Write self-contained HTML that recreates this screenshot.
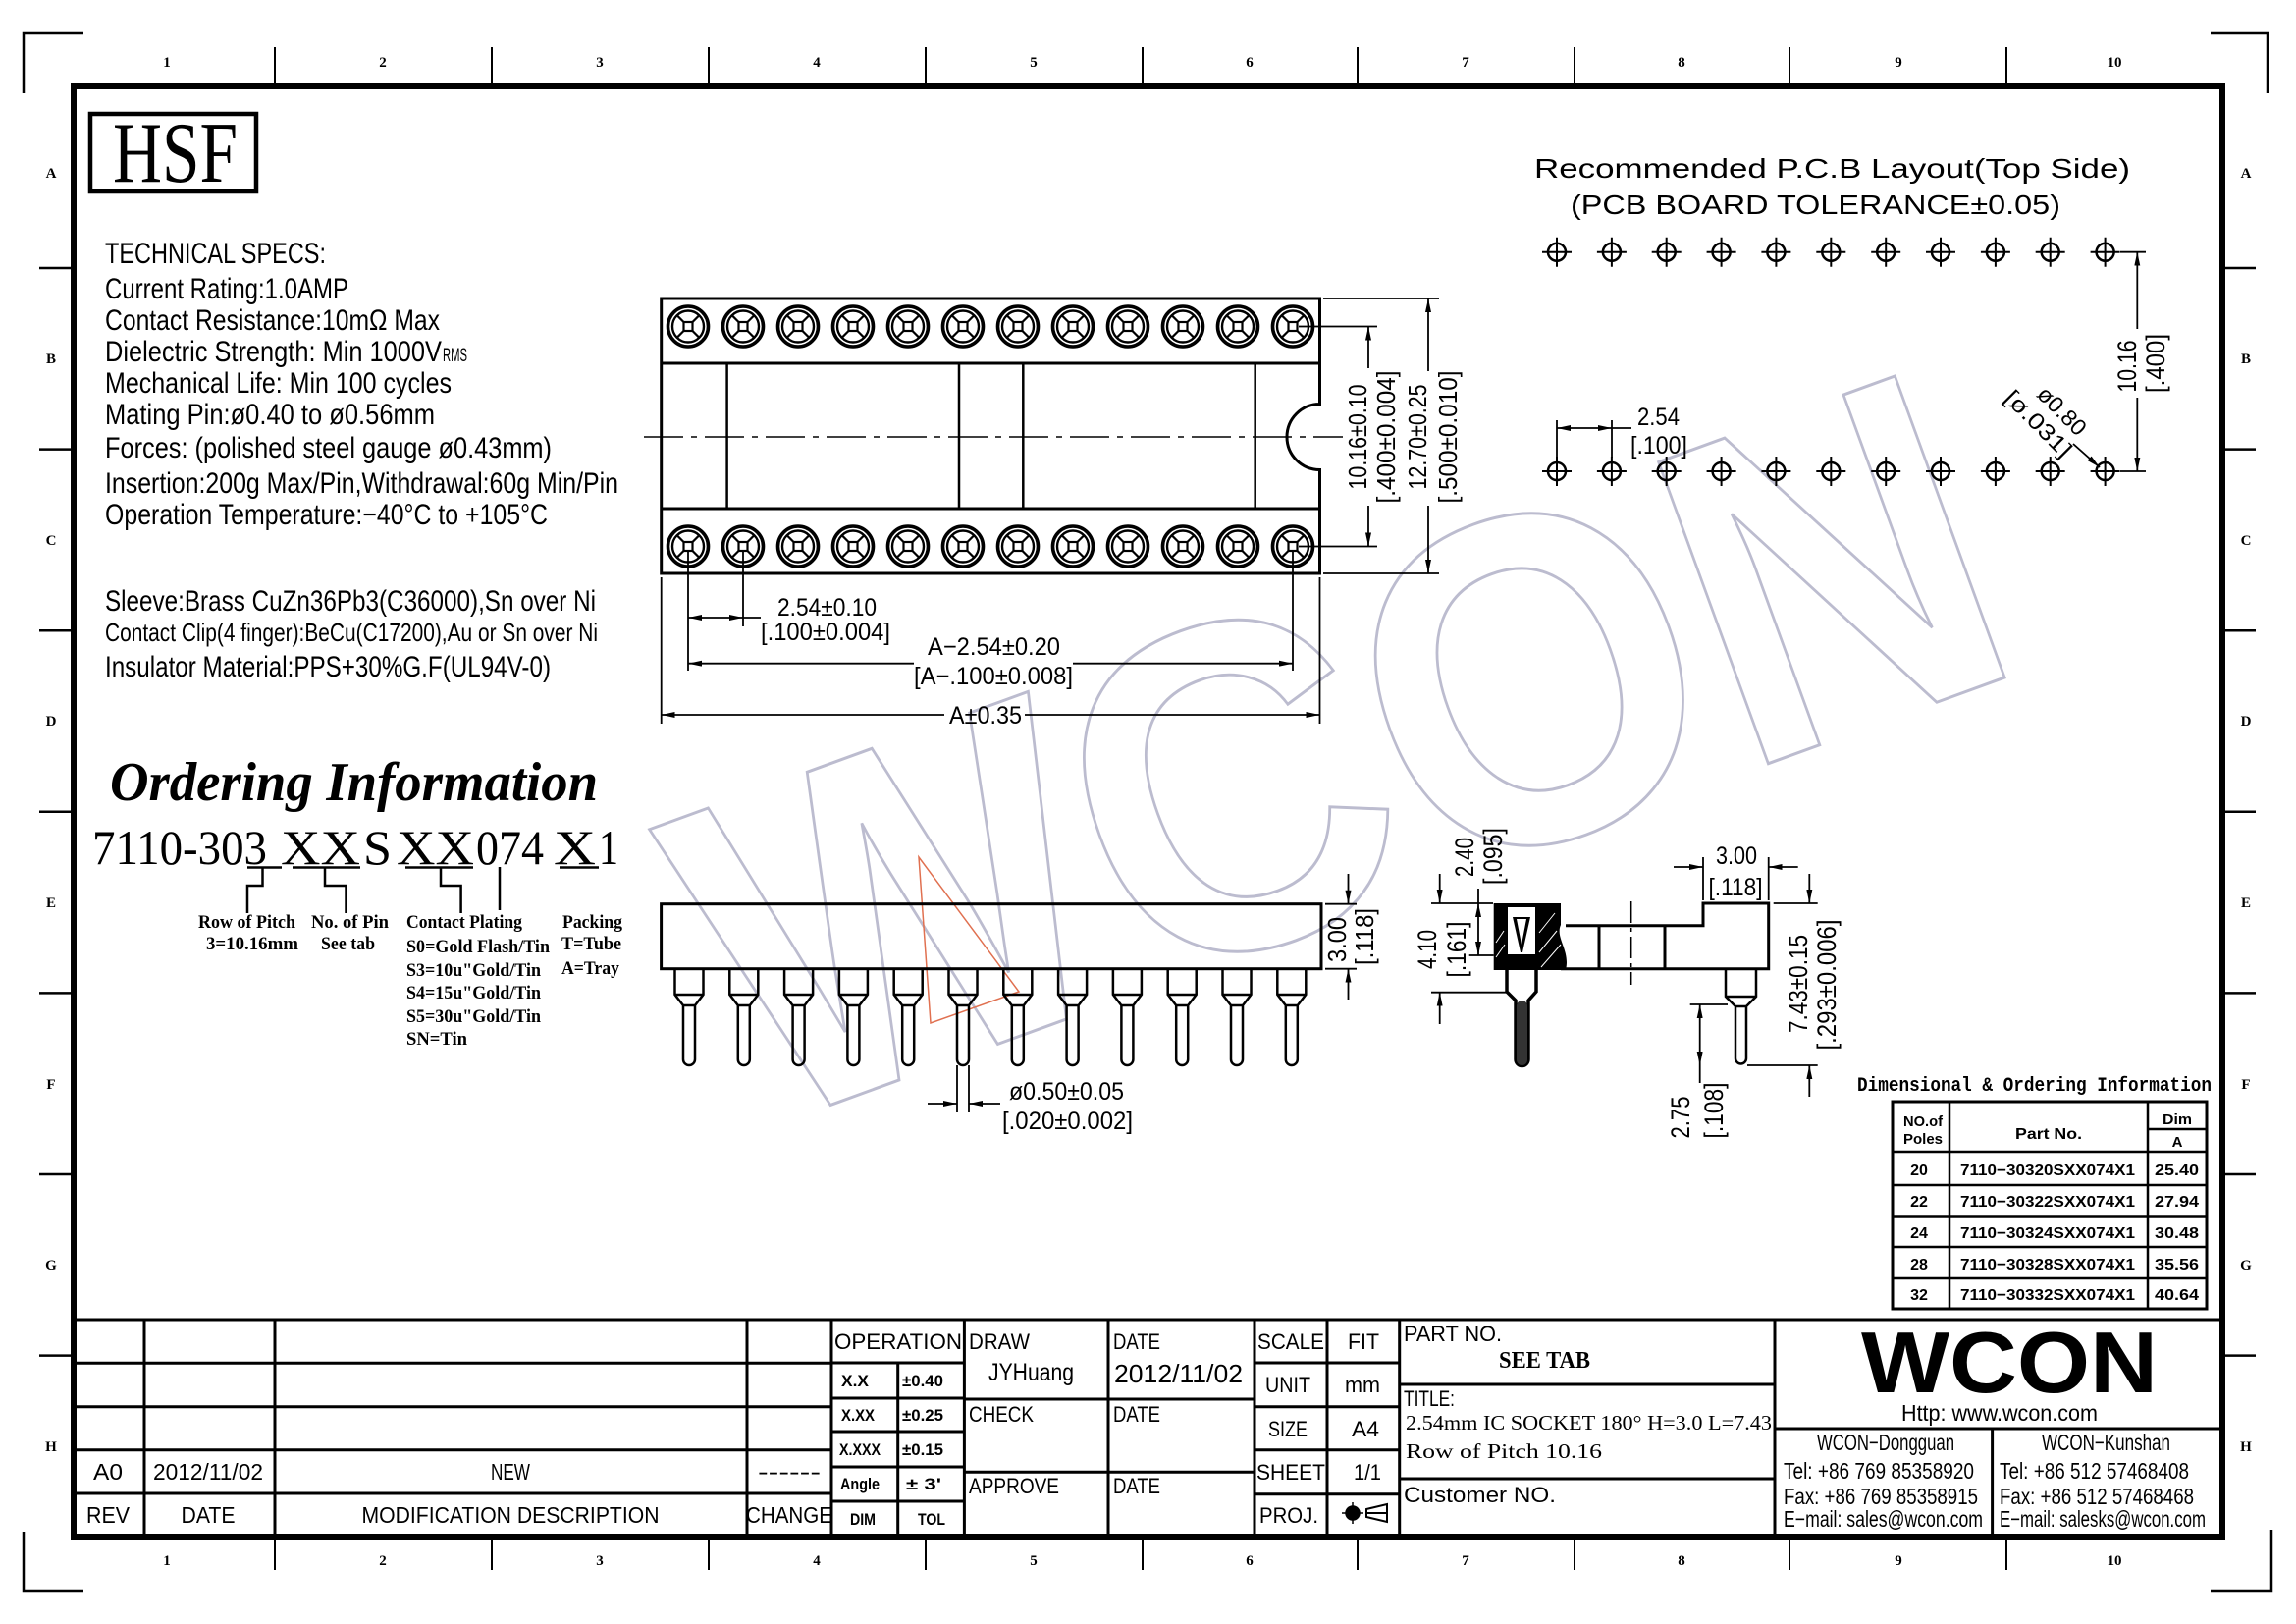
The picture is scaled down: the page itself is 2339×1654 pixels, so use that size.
<!DOCTYPE html>
<html><head><meta charset="utf-8"><style>
html,body{margin:0;padding:0;background:#fff;overflow:hidden;}
svg{display:block;}
text{font-family:"Liberation Sans",sans-serif;fill:#000;}
.sf{font-family:"Liberation Serif",serif;}
.mo{font-family:"Liberation Mono",monospace;}
</style></head><body>
<svg width="2339" height="1654" viewBox="0 0 2339 1654" xmlns="http://www.w3.org/2000/svg">
<defs>
<marker id="ar" viewBox="0 0 14 6" refX="14" refY="3" markerWidth="14" markerHeight="6" markerUnits="userSpaceOnUse" orient="auto-start-reverse"><path d="M0,0L14,3L0,6z" fill="#000"/></marker>
<g id="h" fill="none" stroke="#000"><circle r="20.5" stroke-width="3.6"/><circle r="16" stroke-width="2.4"/><rect x="-4.5" y="-4.5" width="9" height="9" stroke-width="2.2"/><path d="M-4.5,-4.5L-11.3,-11.3M4.5,-4.5L11.3,-11.3M-4.5,4.5L-11.3,11.3M4.5,4.5L11.3,11.3" stroke-width="2.2"/></g>
<g id="p" fill="none" stroke="#000"><circle r="9" stroke-width="2.5"/><path d="M-15,0H15M0,-15V15" stroke-width="2"/></g>
<g id="pn" fill="none" stroke="#000" stroke-width="2.5"><path d="M-14.5,0V26.3L-6,37.3V92.3A6,6 0 0 0 6,92.3V37.3L14.5,26.3V0M-14.5,26.3H14.5M-6,37.3H6"/></g>
</defs>
<rect width="2339" height="1654" fill="#fff"/>

<!-- watermark -->
<text transform="translate(773,1152) rotate(-20)" font-weight="bold" font-size="475" textLength="1380" lengthAdjust="spacingAndGlyphs" style="fill:none;stroke:#bcbccf;stroke-width:3">WCON</text>
<path d="M936,873L1038,1010L948,1042Z" fill="none" stroke="#e07050" stroke-width="1.5"/>

<!-- frame -->
<g fill="none" stroke="#000">
<rect x="75" y="88" width="2189" height="1477" stroke-width="6"/>
<path d="M85,34H24V95M2252,34H2310V95M24,1560V1620H85M2314,1558V1620H2252" stroke-width="2.5"/>
<path d="M280,48V85M501,48V85M722,48V85M943,48V85M1164,48V85M1383,48V85M1604,48V85M1823,48V85M2044,48V85" stroke-width="2"/>
<path d="M280,1568V1599M501,1568V1599M722,1568V1599M943,1568V1599M1164,1568V1599M1383,1568V1599M1604,1568V1599M1823,1568V1599M2044,1568V1599" stroke-width="2"/>
<path d="M40,273H72M40,457.6H72M40,642.2H72M40,826.8H72M40,1011.4H72M40,1196H72M40,1380.6H72" stroke-width="2.5"/>
<path d="M2267,273H2298M2267,457.6H2298M2267,642.2H2298M2267,826.8H2298M2267,1011.4H2298M2267,1196H2298M2267,1380.6H2298" stroke-width="2.5"/>
</g>
<g class="sf" font-size="15" font-weight="bold" text-anchor="middle">
<text class="sf" x="170" y="68">1</text><text class="sf" x="390" y="68">2</text><text class="sf" x="611" y="68">3</text><text class="sf" x="832" y="68">4</text><text class="sf" x="1053" y="68">5</text><text class="sf" x="1273" y="68">6</text><text class="sf" x="1493" y="68">7</text><text class="sf" x="1713" y="68">8</text><text class="sf" x="1934" y="68">9</text><text class="sf" x="2154" y="68">10</text>
<text class="sf" x="170" y="1594">1</text><text class="sf" x="390" y="1594">2</text><text class="sf" x="611" y="1594">3</text><text class="sf" x="832" y="1594">4</text><text class="sf" x="1053" y="1594">5</text><text class="sf" x="1273" y="1594">6</text><text class="sf" x="1493" y="1594">7</text><text class="sf" x="1713" y="1594">8</text><text class="sf" x="1934" y="1594">9</text><text class="sf" x="2154" y="1594">10</text>
<text class="sf" x="52" y="181">A</text><text class="sf" x="52" y="370">B</text><text class="sf" x="52" y="555">C</text><text class="sf" x="52" y="739">D</text><text class="sf" x="52" y="924">E</text><text class="sf" x="52" y="1109">F</text><text class="sf" x="52" y="1293">G</text><text class="sf" x="52" y="1478">H</text>
<text class="sf" x="2288" y="181">A</text><text class="sf" x="2288" y="370">B</text><text class="sf" x="2288" y="555">C</text><text class="sf" x="2288" y="739">D</text><text class="sf" x="2288" y="924">E</text><text class="sf" x="2288" y="1109">F</text><text class="sf" x="2288" y="1293">G</text><text class="sf" x="2288" y="1478">H</text>
</g>

<!-- HSF -->
<rect x="92" y="116" width="169" height="79" fill="none" stroke="#000" stroke-width="4.5"/>
<text class="sf" x="115" y="185" font-size="88" textLength="127" lengthAdjust="spacingAndGlyphs">HSF</text>

<!-- tech specs -->
<g font-size="30">
<text x="107" y="268" textLength="225" lengthAdjust="spacingAndGlyphs">TECHNICAL SPECS:</text>
<text x="107" y="304" textLength="248" lengthAdjust="spacingAndGlyphs">Current Rating:1.0AMP</text>
<text x="107" y="336" textLength="341" lengthAdjust="spacingAndGlyphs">Contact Resistance:10mΩ Max</text>
<text x="107" y="368" textLength="343" lengthAdjust="spacingAndGlyphs">Dielectric Strength: Min 1000V</text>
<text x="451" y="368" font-size="19" textLength="25" lengthAdjust="spacingAndGlyphs">RMS</text>
<text x="107" y="400" textLength="353" lengthAdjust="spacingAndGlyphs">Mechanical Life: Min 100 cycles</text>
<text x="107" y="432" textLength="336" lengthAdjust="spacingAndGlyphs">Mating Pin:ø0.40 to ø0.56mm</text>
<text x="107" y="466" textLength="455" lengthAdjust="spacingAndGlyphs">Forces: (polished steel gauge ø0.43mm)</text>
<text x="107" y="502" textLength="523" lengthAdjust="spacingAndGlyphs">Insertion:200g Max/Pin,Withdrawal:60g Min/Pin</text>
<text x="107" y="534" textLength="451" lengthAdjust="spacingAndGlyphs">Operation Temperature:−40°C to +105°C</text>
<text x="107" y="622" textLength="500" lengthAdjust="spacingAndGlyphs">Sleeve:Brass CuZn36Pb3(C36000),Sn over Ni</text>
<text x="107" y="653" font-size="26" textLength="502" lengthAdjust="spacingAndGlyphs">Contact Clip(4 finger):BeCu(C17200),Au or Sn over Ni</text>
<text x="107" y="689" textLength="454" lengthAdjust="spacingAndGlyphs">Insulator Material:PPS+30%G.F(UL94V-0)</text>
</g>

<!-- ordering information -->
<text class="sf" x="112" y="815" font-size="56" font-weight="bold" font-style="italic" textLength="497" lengthAdjust="spacingAndGlyphs">Ordering Information</text>
<g font-size="50">
<text class="sf" x="94" y="880" textLength="178" lengthAdjust="spacingAndGlyphs">7110-303</text>
<text class="sf" x="286" y="880" textLength="81" lengthAdjust="spacingAndGlyphs">XX</text>
<text class="sf" x="370" y="880" textLength="29" lengthAdjust="spacingAndGlyphs">S</text>
<text class="sf" x="404" y="880" textLength="79" lengthAdjust="spacingAndGlyphs">XX</text>
<text class="sf" x="485" y="880" textLength="69" lengthAdjust="spacingAndGlyphs">074</text>
<text class="sf" x="564" y="880" textLength="43" lengthAdjust="spacingAndGlyphs">X</text>
<text class="sf" x="610" y="880" textLength="20" lengthAdjust="spacingAndGlyphs">1</text>
</g>
<g fill="none" stroke="#000" stroke-width="2.5">
<path d="M252,883.5H287M298,883.5H367M413,883.5H482M570,883.5H610"/>
<path d="M267.5,883V902H252V930M331,883V902H352.5V930M449,883V902H469.6V930M509,883V927"/>
</g>
<g font-size="19" font-weight="bold">
<text class="sf" x="202" y="945" textLength="99" lengthAdjust="spacingAndGlyphs">Row of Pitch</text>
<text class="sf" x="210" y="967" textLength="94" lengthAdjust="spacingAndGlyphs">3=10.16mm</text>
<text class="sf" x="317" y="945" textLength="79" lengthAdjust="spacingAndGlyphs">No. of Pin</text>
<text class="sf" x="327" y="967" textLength="55" lengthAdjust="spacingAndGlyphs">See tab</text>
<text class="sf" x="414" y="945" textLength="118" lengthAdjust="spacingAndGlyphs">Contact Plating</text>
<text class="sf" x="414" y="970" textLength="146" lengthAdjust="spacingAndGlyphs">S0=Gold Flash/Tin</text>
<text class="sf" x="414" y="994" textLength="137" lengthAdjust="spacingAndGlyphs">S3=10u"Gold/Tin</text>
<text class="sf" x="414" y="1017" textLength="137" lengthAdjust="spacingAndGlyphs">S4=15u"Gold/Tin</text>
<text class="sf" x="414" y="1041" textLength="137" lengthAdjust="spacingAndGlyphs">S5=30u"Gold/Tin</text>
<text class="sf" x="414" y="1064" textLength="62" lengthAdjust="spacingAndGlyphs">SN=Tin</text>
<text class="sf" x="573" y="945" textLength="61" lengthAdjust="spacingAndGlyphs">Packing</text>
<text class="sf" x="572" y="967" textLength="61" lengthAdjust="spacingAndGlyphs">T=Tube</text>
<text class="sf" x="572" y="992" textLength="59" lengthAdjust="spacingAndGlyphs">A=Tray</text>
</g>

<!-- TOP VIEW -->
<g fill="none" stroke="#000">
<path d="M673.7,304H1344.5V411.5A33.5,33.5 0 0 0 1344.5,478.5V584H673.7Z" stroke-width="3"/>
<path d="M673.7,370H1344.5M673.7,518H1344.5" stroke-width="3"/>
<path d="M740.6,370V518M977,370V518M1042.3,370V518M1278.7,370V518" stroke-width="2.5"/>
<path d="M656,445H1368" stroke-width="1.5" stroke-dasharray="40 8 6 8"/>
</g>
<use href="#h" x="701" y="332.5"/><use href="#h" x="757" y="332.5"/><use href="#h" x="813" y="332.5"/><use href="#h" x="869" y="332.5"/><use href="#h" x="925" y="332.5"/><use href="#h" x="981" y="332.5"/><use href="#h" x="1037" y="332.5"/><use href="#h" x="1093" y="332.5"/><use href="#h" x="1149" y="332.5"/><use href="#h" x="1205" y="332.5"/><use href="#h" x="1261" y="332.5"/><use href="#h" x="1317" y="332.5"/>
<use href="#h" x="701" y="556.5"/><use href="#h" x="757" y="556.5"/><use href="#h" x="813" y="556.5"/><use href="#h" x="869" y="556.5"/><use href="#h" x="925" y="556.5"/><use href="#h" x="981" y="556.5"/><use href="#h" x="1037" y="556.5"/><use href="#h" x="1093" y="556.5"/><use href="#h" x="1149" y="556.5"/><use href="#h" x="1205" y="556.5"/><use href="#h" x="1261" y="556.5"/><use href="#h" x="1317" y="556.5"/>
<g fill="none" stroke="#000" stroke-width="1.8">
<path d="M1323,332.5H1403M1323,556.5H1403M1348,304H1466M1348,584H1466"/>
<path d="M1394,375V332.5" marker-end="url(#ar)"/><path d="M1394,515V556.5" marker-end="url(#ar)"/>
<path d="M1455,378V304" marker-end="url(#ar)"/><path d="M1455,515V584" marker-end="url(#ar)"/>
<path d="M701,562V683M757,562V638M1317,562V683M673.7,588V737M1344.5,588V737"/>
<path d="M701,629H757" marker-start="url(#ar)" marker-end="url(#ar)"/><path d="M757,629H775"/>
<path d="M931,675.7H701" marker-end="url(#ar)"/><path d="M1093,675.7H1317" marker-end="url(#ar)"/>
<path d="M962,728H673.7" marker-end="url(#ar)"/><path d="M1044,728H1344.5" marker-end="url(#ar)"/>
</g>
<g font-size="26" text-anchor="middle">
<text transform="translate(1392,445) rotate(-90)" textLength="107" lengthAdjust="spacingAndGlyphs">10.16±0.10</text>
<text transform="translate(1421,445) rotate(-90)" textLength="135" lengthAdjust="spacingAndGlyphs">[.400±0.004]</text>
<text transform="translate(1453,445) rotate(-90)" textLength="107" lengthAdjust="spacingAndGlyphs">12.70±0.25</text>
<text transform="translate(1484,445) rotate(-90)" textLength="135" lengthAdjust="spacingAndGlyphs">[.500±0.010]</text>
</g>
<g font-size="25">
<text x="792" y="627" textLength="101" lengthAdjust="spacingAndGlyphs">2.54±0.10</text>
<text x="775" y="652" textLength="132" lengthAdjust="spacingAndGlyphs">[.100±0.004]</text>
<text x="945" y="667" textLength="135" lengthAdjust="spacingAndGlyphs">A−2.54±0.20</text>
<text x="931" y="697" textLength="162" lengthAdjust="spacingAndGlyphs">[A−.100±0.008]</text>
<text x="967" y="737" textLength="74" lengthAdjust="spacingAndGlyphs">A±0.35</text>
</g>

<!-- SIDE VIEW -->
<rect x="673.6" y="920.7" width="672.4" height="66" fill="none" stroke="#000" stroke-width="3"/>
<use href="#pn" x="702" y="986.7"/><use href="#pn" x="757.8" y="986.7"/><use href="#pn" x="813.6" y="986.7"/><use href="#pn" x="869.4" y="986.7"/><use href="#pn" x="925.2" y="986.7"/><use href="#pn" x="981" y="986.7"/><use href="#pn" x="1036.8" y="986.7"/><use href="#pn" x="1092.6" y="986.7"/><use href="#pn" x="1148.4" y="986.7"/><use href="#pn" x="1204.2" y="986.7"/><use href="#pn" x="1260" y="986.7"/><use href="#pn" x="1315.8" y="986.7"/>
<g fill="none" stroke="#000" stroke-width="1.8">
<path d="M1350,920.7H1382M1350,986.7H1382"/>
<path d="M1373.5,890V920.7" marker-end="url(#ar)"/><path d="M1373.5,1018V986.7" marker-end="url(#ar)"/>
<path d="M975,1085V1133M987,1085V1133"/>
<path d="M945,1124H975" marker-end="url(#ar)"/><path d="M1019,1124H987" marker-end="url(#ar)"/>
</g>
<g font-size="26" text-anchor="middle">
<text transform="translate(1371,957) rotate(-90)" textLength="46" lengthAdjust="spacingAndGlyphs">3.00</text>
<text transform="translate(1399,954) rotate(-90)" textLength="58" lengthAdjust="spacingAndGlyphs">[.118]</text>
</g>
<text x="1028" y="1120" font-size="25" textLength="117" lengthAdjust="spacingAndGlyphs">ø0.50±0.05</text>
<text x="1021" y="1150" font-size="25" textLength="133" lengthAdjust="spacingAndGlyphs">[.020±0.002]</text>

<!-- RIGHT PROFILE -->
<path d="M1521.7,920H1590V942C1584,955 1600,968 1595,988H1521.7Z" fill="#000"/>
<path d="M1536,924H1564V972H1536Z" fill="#fff"/>
<path d="M1541,934H1559L1551,970H1549Z" fill="#000"/>
<path d="M1545,936H1555L1550,962Z" fill="#fff"/>
<g stroke="#fff" stroke-width="1"><path d="M1524,960L1532,948M1524,975L1533,962M1568,950L1584,930M1568,970L1586,948M1570,985L1590,962"/></g>
<path d="M1535,988V1010L1544,1019V1079A6.5,6.5 0 0 0 1557,1079V1019L1565,1010V988" fill="#fff" stroke="#000" stroke-width="3.5"/>
<rect x="1545" y="1019" width="11" height="66" rx="5.5" fill="#333"/>
<g fill="none" stroke="#000" stroke-width="3">
<path d="M1595,942.7H1735V920H1801.7V986.7H1590"/>
<path d="M1629,942.7V986.7M1696,942.7V986.7"/>
<path d="M1758,986.7V1015L1768,1025V1078A5.5,5.5 0 0 0 1779,1078V1025L1789,1015V986.7M1758,1015H1789M1768,1025H1779" stroke-width="2.5"/>
</g>
<path d="M1661.7,918V1003" stroke="#000" stroke-width="1.5" stroke-dasharray="22 5 4 5"/>
<g fill="none" stroke="#000" stroke-width="1.8">
<path d="M1735,873V917M1801.7,873V917"/>
<path d="M1705,883H1735" marker-end="url(#ar)"/><path d="M1831.7,883H1801.7" marker-end="url(#ar)"/>
<path d="M1806.7,920H1851.7M1780,1085H1851.7"/>
<path d="M1843.3,890V920" marker-end="url(#ar)"/><path d="M1843.3,1117V1085" marker-end="url(#ar)"/>
<path d="M1721.7,1023H1760"/>
<path d="M1731.7,1054V1023" marker-end="url(#ar)"/><path d="M1731.7,1054V1085" marker-end="url(#ar)"/><path d="M1731.7,1085V1103"/>
<path d="M1458,920H1521M1458,1010.7H1535"/>
<path d="M1466.7,890V920" marker-end="url(#ar)"/><path d="M1466.7,1043V1010.7" marker-end="url(#ar)"/>
<path d="M1496.7,973H1521.7"/>
<path d="M1506,946V920" marker-end="url(#ar)"/><path d="M1506,946V973" marker-end="url(#ar)"/><path d="M1506,920V905"/>
</g>
<text x="1769" y="880" font-size="25" text-anchor="middle" textLength="42" lengthAdjust="spacingAndGlyphs">3.00</text>
<text x="1768" y="912" font-size="25" text-anchor="middle" textLength="55" lengthAdjust="spacingAndGlyphs">[.118]</text>
<g font-size="27" text-anchor="middle">
<text transform="translate(1841,1002) rotate(-90)" textLength="100" lengthAdjust="spacingAndGlyphs">7.43±0.15</text>
<text transform="translate(1870,1003) rotate(-90)" textLength="133" lengthAdjust="spacingAndGlyphs">[.293±0.006]</text>
<text transform="translate(1721,1138) rotate(-90)" textLength="43" lengthAdjust="spacingAndGlyphs">2.75</text>
<text transform="translate(1755,1131) rotate(-90)" textLength="57" lengthAdjust="spacingAndGlyphs">[.108]</text>
<text transform="translate(1463,967) rotate(-90)" textLength="40" lengthAdjust="spacingAndGlyphs">4.10</text>
<text transform="translate(1493,967) rotate(-90)" textLength="57" lengthAdjust="spacingAndGlyphs">[.161]</text>
<text transform="translate(1501,873) rotate(-90)" textLength="40" lengthAdjust="spacingAndGlyphs">2.40</text>
<text transform="translate(1530,872) rotate(-90)" textLength="58" lengthAdjust="spacingAndGlyphs">[.095]</text>
</g>

<!-- PCB LAYOUT -->
<text x="1563" y="181" font-size="28" textLength="607" lengthAdjust="spacingAndGlyphs">Recommended P.C.B Layout(Top Side)</text>
<text x="1600" y="218" font-size="28" textLength="499" lengthAdjust="spacingAndGlyphs">(PCB BOARD TOLERANCE±0.05)</text>
<use href="#p" x="1586" y="256.7"/><use href="#p" x="1641.9" y="256.7"/><use href="#p" x="1697.7" y="256.7"/><use href="#p" x="1753.6" y="256.7"/><use href="#p" x="1809.4" y="256.7"/><use href="#p" x="1865.3" y="256.7"/><use href="#p" x="1921.2" y="256.7"/><use href="#p" x="1977" y="256.7"/><use href="#p" x="2032.9" y="256.7"/><use href="#p" x="2088.7" y="256.7"/><use href="#p" x="2144.6" y="256.7"/>
<use href="#p" x="1586" y="480"/><use href="#p" x="1641.9" y="480"/><use href="#p" x="1697.7" y="480"/><use href="#p" x="1753.6" y="480"/><use href="#p" x="1809.4" y="480"/><use href="#p" x="1865.3" y="480"/><use href="#p" x="1921.2" y="480"/><use href="#p" x="1977" y="480"/><use href="#p" x="2032.9" y="480"/><use href="#p" x="2088.7" y="480"/><use href="#p" x="2144.6" y="480"/>
<g fill="none" stroke="#000" stroke-width="1.8">
<path d="M2160,256.7H2186M2160,480H2186"/>
<path d="M2177.3,335V256.7" marker-end="url(#ar)"/><path d="M2177.3,405V480" marker-end="url(#ar)"/>
<path d="M1586,466V428M1642,466V428"/>
<path d="M1614,436H1586" marker-end="url(#ar)"/><path d="M1614,436H1642" marker-end="url(#ar)"/><path d="M1642,436H1662"/>
<path d="M2112,452L2139,476" marker-end="url(#ar)"/>
</g>
<g font-size="27" text-anchor="middle">
<text transform="translate(2176,373) rotate(-90)" textLength="53" lengthAdjust="spacingAndGlyphs">10.16</text>
<text transform="translate(2205,370) rotate(-90)" textLength="60" lengthAdjust="spacingAndGlyphs">[.400]</text>
</g>
<text x="1668" y="433" font-size="25" textLength="43" lengthAdjust="spacingAndGlyphs">2.54</text>
<text x="1661" y="462" font-size="25" textLength="58" lengthAdjust="spacingAndGlyphs">[.100]</text>
<text transform="translate(2095,424) rotate(45)" font-size="23" text-anchor="middle" textLength="60" lengthAdjust="spacingAndGlyphs">ø0.80</text>
<text transform="translate(2071,437) rotate(45)" font-size="23" text-anchor="middle" textLength="86" lengthAdjust="spacingAndGlyphs">[ø.031]</text>

<!-- DIMENSION TABLE -->
<text class="mo" x="1892" y="1111" font-size="20" font-weight="bold" textLength="361" lengthAdjust="spacingAndGlyphs">Dimensional &amp; Ordering Information</text>
<g fill="none" stroke="#000" stroke-width="2.5">
<rect x="1928" y="1122" width="320" height="211" stroke-width="3"/>
<path d="M1986,1122V1333M2188,1122V1333M1928,1173H2248M1928,1207H2248M1928,1238.5H2248M1928,1270H2248M1928,1302H2248M2188,1150H2248"/>
</g>
<g font-size="15" font-weight="bold" text-anchor="middle">
<text x="1959" y="1147" textLength="40" lengthAdjust="spacingAndGlyphs">NO.of</text>
<text x="1959" y="1165" textLength="40" lengthAdjust="spacingAndGlyphs">Poles</text>
<text x="2087" y="1160" font-size="16" textLength="68" lengthAdjust="spacingAndGlyphs">Part No.</text>
<text x="2218" y="1145" textLength="30" lengthAdjust="spacingAndGlyphs">Dim</text>
<text x="2218" y="1168">A</text>
</g>
<g font-size="16" font-weight="bold">
<text x="1955" y="1197" text-anchor="middle">20</text><text x="1997" y="1197" textLength="178" lengthAdjust="spacingAndGlyphs">7110−30320SXX074X1</text><text x="2195" y="1197" textLength="45" lengthAdjust="spacingAndGlyphs">25.40</text>
<text x="1955" y="1229" text-anchor="middle">22</text><text x="1997" y="1229" textLength="178" lengthAdjust="spacingAndGlyphs">7110−30322SXX074X1</text><text x="2195" y="1229" textLength="45" lengthAdjust="spacingAndGlyphs">27.94</text>
<text x="1955" y="1261" text-anchor="middle">24</text><text x="1997" y="1261" textLength="178" lengthAdjust="spacingAndGlyphs">7110−30324SXX074X1</text><text x="2195" y="1261" textLength="45" lengthAdjust="spacingAndGlyphs">30.48</text>
<text x="1955" y="1293" text-anchor="middle">28</text><text x="1997" y="1293" textLength="178" lengthAdjust="spacingAndGlyphs">7110−30328SXX074X1</text><text x="2195" y="1293" textLength="45" lengthAdjust="spacingAndGlyphs">35.56</text>
<text x="1955" y="1324" text-anchor="middle">32</text><text x="1997" y="1324" textLength="178" lengthAdjust="spacingAndGlyphs">7110−30332SXX074X1</text><text x="2195" y="1324" textLength="45" lengthAdjust="spacingAndGlyphs">40.64</text>
</g>

<!-- TITLE BLOCK -->
<g fill="none" stroke="#000" stroke-width="3">
<path d="M75,1344H2264"/>
<path d="M75,1388.3H847M75,1432.7H847M75,1476.7H847M75,1521H847"/>
<path d="M147,1344V1565M280,1344V1565M761,1344V1565M847,1344V1565"/>
<path d="M847,1388H982.4M847,1424H982.4M847,1458H982.4M847,1494H982.4M847,1529H982.4M914.7,1388V1565"/>
<path d="M982.4,1344V1565M1129,1344V1565M1278,1344V1565M982.4,1425H1278M982.4,1499.3H1278"/>
<path d="M1352,1344V1565M1425.7,1344V1565M1278,1388H1425.7M1278,1432.7H1425.7M1278,1476.7H1425.7M1278,1521.7H1425.7"/>
<path d="M1425.7,1410H1808M1425.7,1506H1808M1808,1344V1565"/>
<path d="M1808,1455H2264M2029.6,1455V1565"/>
</g>
<g font-size="23" text-anchor="middle">
<text x="110" y="1507" textLength="30" lengthAdjust="spacingAndGlyphs">A0</text>
<text x="212" y="1507" textLength="112" lengthAdjust="spacingAndGlyphs">2012/11/02</text>
<text x="520" y="1507" textLength="40" lengthAdjust="spacingAndGlyphs">NEW</text>
<text x="804" y="1507" textLength="64" lengthAdjust="spacingAndGlyphs">------</text>
<text x="110" y="1551" textLength="44" lengthAdjust="spacingAndGlyphs">REV</text>
<text x="212" y="1551" textLength="55" lengthAdjust="spacingAndGlyphs">DATE</text>
<text x="520" y="1551" textLength="303" lengthAdjust="spacingAndGlyphs">MODIFICATION DESCRIPTION</text>
<text x="804" y="1551" textLength="88" lengthAdjust="spacingAndGlyphs">CHANGE</text>
</g>
<g font-size="22">
<text x="850" y="1374" textLength="130" lengthAdjust="spacingAndGlyphs">OPERATION</text>
<text x="987" y="1374" textLength="62" lengthAdjust="spacingAndGlyphs">DRAW</text>
<text x="1007" y="1406" font-size="25" textLength="87" lengthAdjust="spacingAndGlyphs">JYHuang</text>
<text x="987" y="1448" textLength="66" lengthAdjust="spacingAndGlyphs">CHECK</text>
<text x="987" y="1521" textLength="92" lengthAdjust="spacingAndGlyphs">APPROVE</text>
<text x="1134" y="1374" textLength="48" lengthAdjust="spacingAndGlyphs">DATE</text>
<text x="1135" y="1408" font-size="26" textLength="131" lengthAdjust="spacingAndGlyphs">2012/11/02</text>
<text x="1134" y="1448" textLength="48" lengthAdjust="spacingAndGlyphs">DATE</text>
<text x="1134" y="1521" textLength="48" lengthAdjust="spacingAndGlyphs">DATE</text>
<text x="1281" y="1374" textLength="68" lengthAdjust="spacingAndGlyphs">SCALE</text>
<text x="1373" y="1374" textLength="32" lengthAdjust="spacingAndGlyphs">FIT</text>
<text x="1289" y="1418" textLength="46" lengthAdjust="spacingAndGlyphs">UNIT</text>
<text x="1370" y="1418" textLength="36" lengthAdjust="spacingAndGlyphs">mm</text>
<text x="1292" y="1463" textLength="40" lengthAdjust="spacingAndGlyphs">SIZE</text>
<text x="1377" y="1463" textLength="28" lengthAdjust="spacingAndGlyphs">A4</text>
<text x="1280" y="1507" textLength="70" lengthAdjust="spacingAndGlyphs">SHEET</text>
<text x="1379" y="1507" textLength="28" lengthAdjust="spacingAndGlyphs">1/1</text>
<text x="1283" y="1551" textLength="60" lengthAdjust="spacingAndGlyphs">PROJ.</text>
<text x="1430" y="1366" textLength="100" lengthAdjust="spacingAndGlyphs">PART NO.</text>
<text x="1430" y="1432" textLength="52" lengthAdjust="spacingAndGlyphs">TITLE:</text>
<text x="1430" y="1530" textLength="155" lengthAdjust="spacingAndGlyphs">Customer NO.</text>
</g>
<g font-size="17" font-weight="bold">
<text x="857" y="1412" textLength="28" lengthAdjust="spacingAndGlyphs">X.X</text>
<text x="919" y="1412" textLength="42" lengthAdjust="spacingAndGlyphs">±0.40</text>
<text x="857" y="1447" textLength="34" lengthAdjust="spacingAndGlyphs">X.XX</text>
<text x="919" y="1447" textLength="42" lengthAdjust="spacingAndGlyphs">±0.25</text>
<text x="855" y="1482" textLength="42" lengthAdjust="spacingAndGlyphs">X.XXX</text>
<text x="919" y="1482" textLength="42" lengthAdjust="spacingAndGlyphs">±0.15</text>
<text x="856" y="1517" textLength="40" lengthAdjust="spacingAndGlyphs">Angle</text>
<text x="923" y="1517" textLength="36" lengthAdjust="spacingAndGlyphs">± 3'</text>
<text x="866" y="1553" textLength="26" lengthAdjust="spacingAndGlyphs">DIM</text>
<text x="935" y="1553" textLength="28" lengthAdjust="spacingAndGlyphs">TOL</text>
</g>
<g fill="#000" stroke="#000" stroke-width="1.5">
<circle cx="1378" cy="1541" r="7"/>
<path d="M1367,1541H1389M1378,1530V1552" fill="none"/>
<path d="M1392,1537L1413,1532V1550L1392,1545Z M1392,1541H1413" fill="none" stroke-width="2"/>
</g>
<text class="sf" x="1527" y="1393" font-size="24" font-weight="bold" textLength="93" lengthAdjust="spacingAndGlyphs">SEE TAB</text>
<text class="sf" x="1432" y="1456" font-size="21" textLength="373" lengthAdjust="spacingAndGlyphs">2.54mm IC SOCKET 180° H=3.0 L=7.43</text>
<text class="sf" x="1432" y="1485" font-size="21" textLength="200" lengthAdjust="spacingAndGlyphs">Row of Pitch 10.16</text>

<!-- WCON block -->
<text x="1896" y="1418" font-size="88" font-weight="bold" textLength="302" lengthAdjust="spacingAndGlyphs">WCON</text>
<g font-size="23">
<text x="1937" y="1447" textLength="200" lengthAdjust="spacingAndGlyphs">Http:  www.wcon.com</text>
<text x="1851" y="1477" textLength="140" lengthAdjust="spacingAndGlyphs">WCON−Dongguan</text>
<text x="1817" y="1506" textLength="194" lengthAdjust="spacingAndGlyphs">Tel: +86 769 85358920</text>
<text x="1817" y="1532" textLength="198" lengthAdjust="spacingAndGlyphs">Fax: +86 769 85358915</text>
<text x="1817" y="1555" textLength="203" lengthAdjust="spacingAndGlyphs">E−mail: sales@wcon.com</text>
<text x="2080" y="1477" textLength="131" lengthAdjust="spacingAndGlyphs">WCON−Kunshan</text>
<text x="2037" y="1506" textLength="193" lengthAdjust="spacingAndGlyphs">Tel: +86 512 57468408</text>
<text x="2037" y="1532" textLength="198" lengthAdjust="spacingAndGlyphs">Fax: +86 512 57468468</text>
<text x="2037" y="1555" textLength="210" lengthAdjust="spacingAndGlyphs">E−mail: salesks@wcon.com</text>
</g>
</svg>
</body></html>
